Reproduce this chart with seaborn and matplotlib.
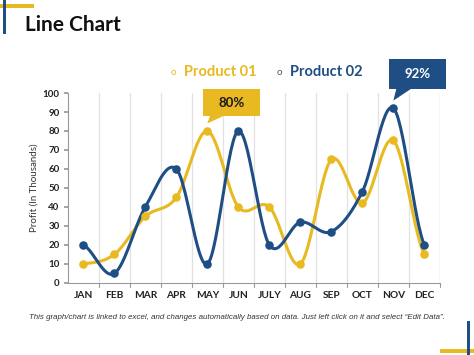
import numpy as np
import matplotlib
matplotlib.use("Agg")
import matplotlib.pyplot as plt
from matplotlib.patches import Polygon, Rectangle
import seaborn as sns

months = ["JAN", "FEB", "MAR", "APR", "MAY", "JUN", "JULY", "AUG", "SEP", "OCT", "NOV", "DEC"]
product_01 = [10, 15, 35, 45, 80, 40, 40, 10, 65, 42, 75, 15]
product_02 = [20, 5, 40, 60, 10, 80, 20, 32, 27, 48, 92, 20]
series_names = ["Product 01", "Product 02"]
callout_01 = "80%"
callout_02 = "92%"
yticks = [0, 10, 20, 30, 40, 50, 60, 70, 80, 90, 100]

YELLOW = "#E8B921"
BLUE = "#1F4E85"


def smooth(y, n=30):
    # catmull-rom through the data points, like excel's smoothed line
    y = np.asarray(y, dtype=float)
    p = np.concatenate([[y[0]], y, [y[-1]]])
    xs, ys = [], []
    for i in range(len(y) - 1):
        p0, p1, p2, p3 = p[i], p[i + 1], p[i + 2], p[i + 3]
        t = np.linspace(0, 1, n, endpoint=False)
        yy = 0.5 * ((2 * p1) + (-p0 + p2) * t + (2 * p0 - 5 * p1 + 4 * p2 - p3) * t**2
                    + (-p0 + 3 * p1 - 3 * p2 + p3) * t**3)
        xs.append(i + t)
        ys.append(yy)
    xs.append([len(y) - 1])
    ys.append([y[-1]])
    return np.concatenate(xs), np.concatenate(ys)


sns.set_theme(style="white")
plt.rcParams['font.family'] = ['Lato', 'DejaVu Sans']

fig = plt.figure(figsize=(4.74, 3.55), dpi=100)
ax = fig.add_axes([0.143, 0.203, 0.785, 0.535])

x = np.arange(len(months))
for vals, col in [(product_01, YELLOW), (product_02, BLUE)]:
    sx, sy = smooth(vals)
    sns.lineplot(x=sx, y=sy, ax=ax, color=col, lw=2.2, sort=False, zorder=3)
    sns.scatterplot(x=x, y=vals, ax=ax, color=col, s=38, edgecolor=col, linewidth=0, zorder=4)

ax.set_xlim(-0.5, len(months) - 0.5)
ax.set_ylim(0, 100)
ax.set_yticks(yticks)
ax.set_yticklabels([str(v) for v in yticks], fontsize=7, fontweight="bold", color="#222222")
ax.set_xticks(x)
ax.set_xticklabels(months, fontsize=7.3, fontweight="bold", color="#222222")
ax.tick_params(axis="x", length=0, pad=6)
ax.tick_params(axis="y", length=3, color="#999999", left=True, pad=3)
for b in np.arange(0.5, len(months), 1.0):
    ax.axvline(b, color="#e2e2e2", lw=0.9, zorder=1)
    ax.plot([b, b], [0, -2.2], color="#999999", lw=0.8, clip_on=False)
ax.axvline(len(months) - 0.5, color="#e2e2e2", lw=0.9, zorder=1)
for s in ["top", "right"]:
    ax.spines[s].set_visible(False)
for s in ["left", "bottom"]:
    ax.spines[s].set_color("#999999")
    ax.spines[s].set_linewidth(0.8)
ax.set_ylabel("Profit (In Thousands)", fontsize=7, color="#333333", labelpad=3)

# callouts
def callout(xi, yi, text, fc, tc, w, h, dy):
    bx0, by0 = xi - 0.15, yi + dy
    ax.add_patch(Rectangle((bx0, by0), w, h, facecolor=fc, edgecolor="none", clip_on=False, zorder=5))
    ax.add_patch(Polygon([(bx0 + 0.25, by0 + 0.5), (bx0 + 0.75, by0 + 0.5), (xi, yi + 4)],
                         closed=True, facecolor=fc, edgecolor="none", clip_on=False, zorder=5))
    ax.text(bx0 + w / 2, by0 + h / 2, text, ha="center", va="center", fontsize=9.5,
            fontweight="bold", color=tc, zorder=6, clip_on=False)

callout(4, product_01[4], callout_01, YELLOW, "#1a1a1a", 1.85, 14, 8)
callout(10, product_02[10], callout_02, BLUE, "white", 1.85, 16, 10)

# legend
fig.text(0.365, 0.795, "o", fontsize=7, color=YELLOW, ha="center", va="center")
fig.text(0.388, 0.797, series_names[0], fontsize=10.5, fontweight="bold", color=YELLOW, va="center")
fig.text(0.59, 0.795, "o", fontsize=7, color="#555555", ha="center", va="center")
fig.text(0.612, 0.797, series_names[1], fontsize=10.5, fontweight="bold", color=BLUE, va="center")

# title and footer
fig.text(0.053, 0.93, "Line Chart", fontsize=15, fontweight="bold", color="#111111", va="center")
fig.text(0.5, 0.105, "This graph/chart is linked to excel, and changes automatically based on data. "
         "Just left click on it and select \u201cEdit Data\u201d.",
         fontsize=5.7, style="italic", color="#333333", ha="center", va="center",
         family=["Liberation Sans", "DejaVu Sans"])

# corner decorations
fig.patches.append(Rectangle((0, 0.978), 0.072, 0.012, transform=fig.transFigure, facecolor=YELLOW, edgecolor="none"))
fig.patches.append(Rectangle((0.006, 0.905), 0.006, 0.095, transform=fig.transFigure, facecolor=BLUE, edgecolor="none"))
fig.patches.append(Rectangle((0.928, 0.006), 0.072, 0.012, transform=fig.transFigure, facecolor=YELLOW, edgecolor="none"))
fig.patches.append(Rectangle((0.985, 0.0), 0.006, 0.095, transform=fig.transFigure, facecolor=BLUE, edgecolor="none"))

fig.savefig("out.png", dpi=100)
